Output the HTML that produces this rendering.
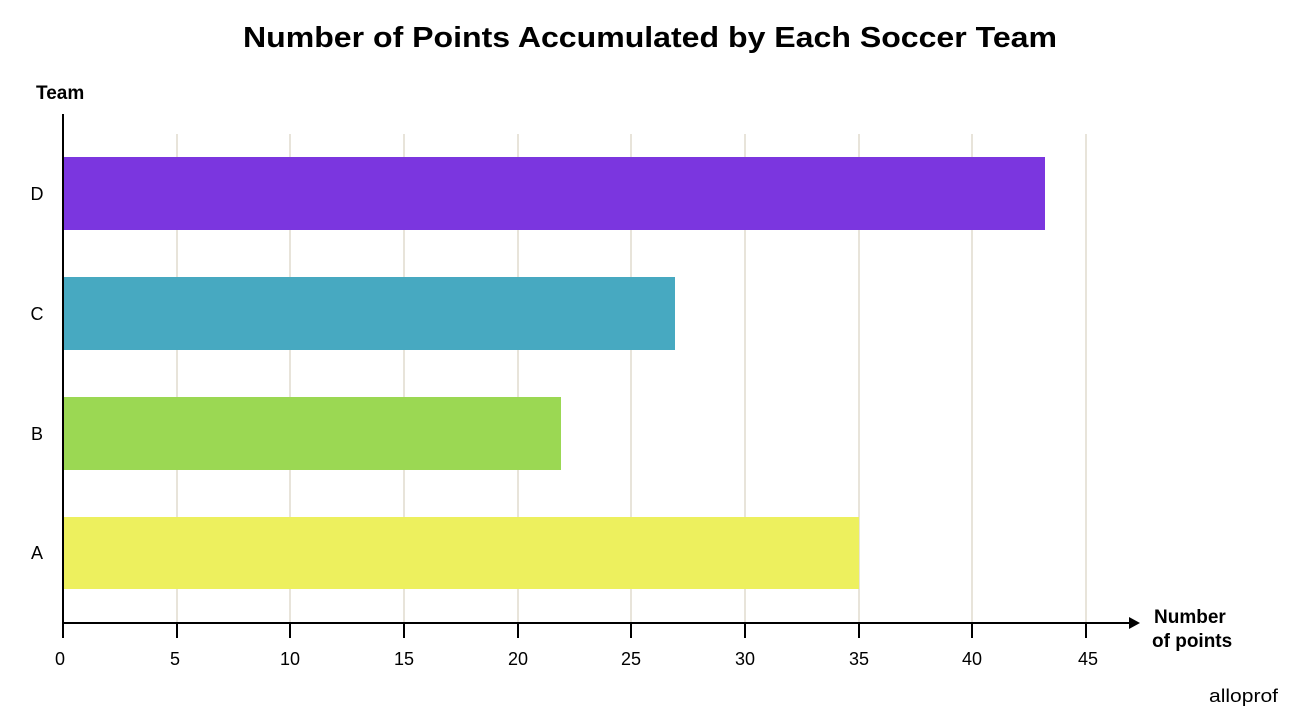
<!DOCTYPE html>
<html><head><meta charset="utf-8"><style>
body{margin:0;background:#fff;}
svg{display:block;font-family:"Liberation Sans",sans-serif;}
</style></head><body>
<svg width="1300" height="723" viewBox="0 0 1300 723" xmlns="http://www.w3.org/2000/svg">
<rect width="1300" height="723" fill="#fff"/>
<text x="243" y="47" textLength="814" lengthAdjust="spacingAndGlyphs" font-size="29" font-weight="bold" fill="#000">Number of Points Accumulated by Each Soccer Team</text>
<text x="36" y="99" font-size="19" font-weight="bold" fill="#000">Team</text>
<g stroke="#e8e4da" stroke-width="2">
<line x1="177" y1="134" x2="177" y2="622"/><line x1="290" y1="134" x2="290" y2="622"/>
<line x1="404" y1="134" x2="404" y2="622"/><line x1="518" y1="134" x2="518" y2="622"/>
<line x1="631" y1="134" x2="631" y2="622"/><line x1="745" y1="134" x2="745" y2="622"/>
<line x1="859" y1="134" x2="859" y2="622"/><line x1="972" y1="134" x2="972" y2="622"/>
<line x1="1086" y1="134" x2="1086" y2="622"/>
</g>
<rect x="63" y="157" width="982" height="73" fill="#7b36df"/>
<rect x="63" y="277" width="612" height="73" fill="#47a9c1"/>
<rect x="63" y="397" width="498" height="73" fill="#9bd853"/>
<rect x="63" y="517" width="796" height="72" fill="#edf05e"/>
<line x1="63" y1="114" x2="63" y2="623" stroke="#000" stroke-width="2"/>
<line x1="62" y1="623" x2="1130" y2="623" stroke="#000" stroke-width="2"/>
<polygon points="1140,623 1129,617 1129,629" fill="#000"/>
<g stroke="#000" stroke-width="2">
<line x1="63" y1="623" x2="63" y2="638"/><line x1="177" y1="623" x2="177" y2="638"/>
<line x1="290" y1="623" x2="290" y2="638"/><line x1="404" y1="623" x2="404" y2="638"/>
<line x1="518" y1="623" x2="518" y2="638"/><line x1="631" y1="623" x2="631" y2="638"/>
<line x1="745" y1="623" x2="745" y2="638"/><line x1="859" y1="623" x2="859" y2="638"/>
<line x1="972" y1="623" x2="972" y2="638"/><line x1="1086" y1="623" x2="1086" y2="638"/>
</g>
<g font-size="18" fill="#000" text-anchor="middle">
<text x="60" y="665">0</text><text x="175" y="665">5</text><text x="290" y="665">10</text>
<text x="404" y="665">15</text><text x="518" y="665">20</text><text x="631" y="665">25</text>
<text x="745" y="665">30</text><text x="859" y="665">35</text><text x="972" y="665">40</text>
<text x="1088" y="665">45</text>
</g>
<g font-size="18" fill="#000" text-anchor="middle">
<text x="37" y="200">D</text><text x="37" y="320">C</text><text x="37" y="440">B</text><text x="37" y="559">A</text>
</g>
<text x="1154" y="623" font-size="19" font-weight="bold" fill="#000">Number</text>
<text x="1152" y="647" font-size="19" font-weight="bold" fill="#000">of points</text>
<text x="1209" y="702" textLength="69" lengthAdjust="spacingAndGlyphs" font-size="18" fill="#000">alloprof</text>
</svg>
</body></html>
